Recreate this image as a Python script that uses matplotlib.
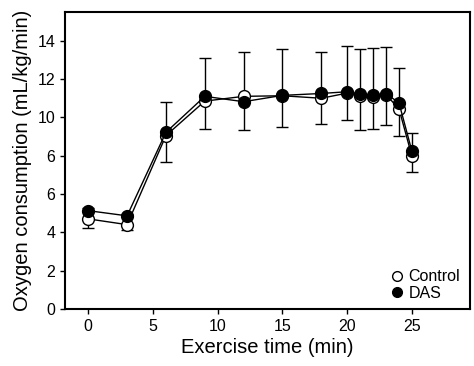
import matplotlib
matplotlib.use('Agg')
import matplotlib.pyplot as plt
import numpy as np

plt.rcParams['font.family'] = ['Liberation Sans', 'DejaVu Sans']

# Exercise time (min)
t = [0, 3, 6, 9, 12, 15, 18, 20, 21, 22, 23, 24, 25]
# Mean oxygen consumption
control = [4.70, 4.40, 9.05, 10.85, 11.10, 11.13, 11.00, 11.27, 11.13, 11.08,
           11.18, 10.45, 7.97]
das = [5.13, 4.86, 9.22, 11.10, 10.82, 11.15, 11.25, 11.34, 11.22, 11.17,
       11.24, 10.76, 8.23]
# Error bars: control shown downwards, DAS upwards
control_err = [0.47, 0.26, 1.40, 1.44, 1.78, 1.63, 1.33, 1.39, 1.77, 1.67,
               1.58, 1.44, 0.84]
das_err = [0.12, 0.12, 1.56, 2.02, 2.59, 2.44, 2.18, 2.39, 2.33, 2.43,
           2.45, 1.82, 0.94]

x_ticks = [0, 5, 10, 15, 20, 25]
y_ticks = [0, 2, 4, 6, 8, 10, 12, 14]
y_ticklabels = ['0', '2', '4', '6', '6', '10', '12', '14']

fig = plt.figure(figsize=(4.74, 3.66), dpi=100)
ax = fig.add_axes([0.137, 0.156, 0.855, 0.811])

zeros = np.zeros(len(t))
ax.errorbar(t, control, yerr=[control_err, zeros], fmt='none', ecolor='black',
            elinewidth=1, capsize=4, capthick=1, zorder=1)
ax.errorbar(t, das, yerr=[zeros, das_err], fmt='none', ecolor='black',
            elinewidth=1, capsize=4, capthick=1, zorder=1)

ax.plot(t, control, color='black', linewidth=1, marker='o', markersize=8.5,
        markerfacecolor='white', markeredgecolor='black', markeredgewidth=1,
        label='Control', zorder=2)
ax.plot(t, das, color='black', linewidth=1, marker='o', markersize=8.5,
        markerfacecolor='black', markeredgecolor='black', markeredgewidth=1,
        label='DAS', zorder=3)

ax.set_xlim(-1.8, 29.5)
ax.set_ylim(0, 15.5)
ax.set_xticks(x_ticks)
ax.set_yticks(y_ticks)
ax.set_yticklabels(y_ticklabels)
ax.tick_params(direction='out', length=3.5, width=1, labelsize=11.5,
               top=False, right=False)
for s in ax.spines.values():
    s.set_linewidth(1.5)

ax.set_xlabel('Exercise time (min)', fontsize=14.5, labelpad=3)
ax.set_ylabel('Oxygen consumption (mL/kg/min)', fontsize=14.5, labelpad=4)

h, l = ax.get_legend_handles_labels()
h = [plt.Line2D([], [], linestyle='none', marker='o', markersize=7,
                markerfacecolor=hh.get_markerfacecolor(),
                markeredgecolor='black', markeredgewidth=1) for hh in h]
ax.legend(h, l, loc='lower right', frameon=False, fontsize=11.5,
          handlelength=0.6, handletextpad=0.4, labelspacing=0.1,
          borderaxespad=0.1, bbox_to_anchor=(0.995, 0.0))

fig.savefig('out.png', dpi=100)
